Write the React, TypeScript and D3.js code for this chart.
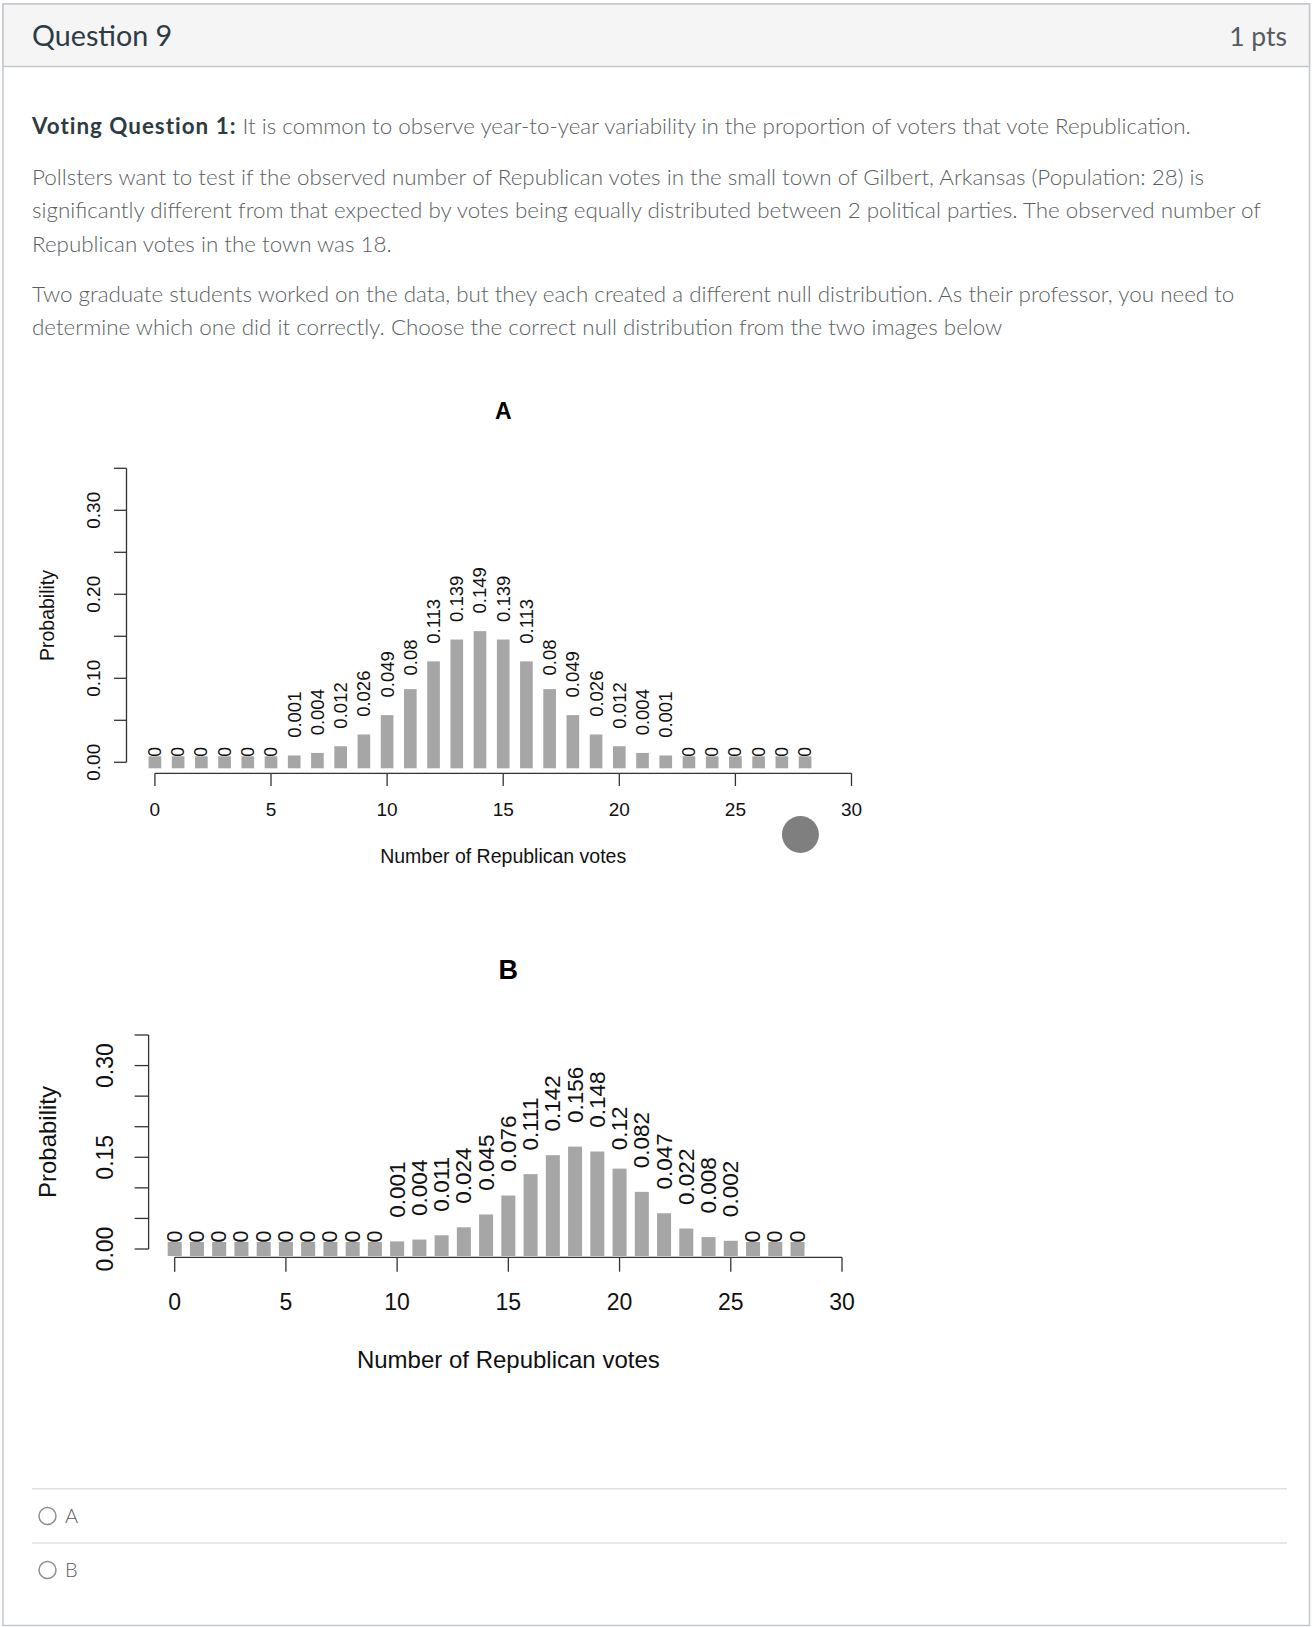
import React from "react";
import * as d3 from "d3";

// ---------- data ----------
const votes = [0, 1, 2, 3, 4, 5, 6, 7, 8, 9, 10, 11, 12, 13, 14, 15, 16, 17, 18, 19, 20, 21, 22, 23, 24, 25, 26, 27, 28];
const probA = [0, 0, 0, 0, 0, 0, 0.001, 0.004, 0.012, 0.026, 0.049, 0.08, 0.113, 0.139, 0.149, 0.139, 0.113, 0.08, 0.049, 0.026, 0.012, 0.004, 0.001, 0, 0, 0, 0, 0, 0];
const probB = [0, 0, 0, 0, 0, 0, 0, 0, 0, 0, 0.001, 0.004, 0.011, 0.024, 0.045, 0.076, 0.111, 0.142, 0.156, 0.148, 0.12, 0.082, 0.047, 0.022, 0.008, 0.002, 0, 0, 0];
const xTicks = [0, 5, 10, 15, 20, 25, 30];
const yMinorTicks = [0, 0.05, 0.1, 0.15, 0.2, 0.25, 0.3, 0.35];
const yLabelsA = [0, 0.1, 0.2, 0.3];
const yLabelsB = [0, 0.15, 0.3];

const paragraphLines = [
  "Pollsters want to test if the observed number of Republican votes in the small town of Gilbert, Arkansas (Population: 28) is",
  "significantly different from that expected by votes being equally distributed between 2 political parties. The observed number of",
  "Republican votes in the town was 18.",
];
const paragraph2Lines = [
  "Two graduate students worked on the data, but they each created a different null distribution. As their professor, you need to",
  "determine which one did it correctly. Choose the correct null distribution from the two images below",
];
const options = ["A", "B"];

// ---------- layout ----------
const layoutA = {
  title: "A",
  probs: probA,
  yLabels: yLabelsA,
  xLeft: 154.9, xRight: 851.5, yBottom: 762.3, yTop: 468.3,
  yAxisX: 126.5, yTickLen: 12.5, yLabelX: 93, yTitleX: 46.5, yTitleY: 615.5,
  xAxisY: 773.3, xTickLen: 12.7, xLabelY: 809.6, xTitleY: 856.4,
  titleY: 410.5, titleSize: 23,
  tickFont: 19, axisTitleFont: 19.5, valFont: 18.5, zeroFont: 17.5,
  barFrac: 0.545, barPad: 6, gapK: 0.38,
};
const layoutB = {
  title: "B",
  probs: probB,
  yLabels: yLabelsB,
  xLeft: 174.7, xRight: 842, yBottom: 1249, yTop: 1035,
  yAxisX: 148.6, yTickLen: 14, yLabelX: 105, yTitleX: 47, yTitleY: 1142,
  xAxisY: 1257.3, xTickLen: 14.4, xLabelY: 1301.5, xTitleY: 1359,
  titleY: 970, titleSize: 27,
  tickFont: 23, axisTitleFont: 24, valFont: 22.5, zeroFont: 21.5,
  barFrac: 0.63, barPad: 7, gapK: 0.42,
};

const chartFont = "'Liberation Sans', Arial, Helvetica, sans-serif";
const pageFont = "Lato, 'Open Sans', sans-serif";
const axisColor = "#333";
const barColor = "#a6a6a6";

function textLen(s: string, size: number) {
  let w = 0;
  for (const c of s) w += c === "." ? 0.278 : 0.556;
  return w * size;
}

function BarChart({ L }: { L: any }) {
  const x = d3.scaleLinear().domain([0, 30]).range([L.xLeft, L.xRight]);
  const y = d3.scaleLinear().domain([0, 0.35]).range([L.yBottom, L.yTop]);
  const bw = L.barFrac * (x(1) - x(0));
  const fmt = d3.format(".2f");
  return (
    <g fontFamily={chartFont}>
      <text x={x(15)} y={L.titleY} textAnchor="middle" dominantBaseline="central" fontWeight="bold" fontSize={L.titleSize} fill="#000">
        {L.title}
      </text>
      {/* bars */}
      {votes.map((v, i) => {
        const p = L.probs[i];
        const top = y(p) - L.barPad;
        const bottom = y(0) + L.barPad;
        return <rect key={"b" + v} x={x(v) - bw / 2} y={top} width={bw} height={bottom - top} fill={barColor} />;
      })}
      {/* value labels */}
      {votes.map((v, i) => {
        const p = L.probs[i];
        const label = String(p);
        const size = p === 0 ? L.zeroFont : L.valFont;
        const gap = p === 0 ? -0.5 : L.gapK * textLen(label, size);
        const ty = y(p) - L.barPad - gap;
        return (
          <text key={"l" + v} transform={`translate(${x(v)},${ty}) rotate(-90)`} textAnchor="start" dominantBaseline="central" fontSize={size} fill="#111">
            {label}
          </text>
        );
      })}
      {/* y axis */}
      <line x1={L.yAxisX} x2={L.yAxisX} y1={y(0)} y2={y(0.35)} stroke={axisColor} strokeWidth={1.3} />
      {yMinorTicks.map((t) => (
        <line key={"yt" + t} x1={L.yAxisX - L.yTickLen} x2={L.yAxisX} y1={y(t)} y2={y(t)} stroke={axisColor} strokeWidth={1.3} />
      ))}
      {L.yLabels.map((t: number) => (
        <text key={"yl" + t} transform={`translate(${L.yLabelX},${y(t)}) rotate(-90)`} textAnchor="middle" dominantBaseline="central" fontSize={L.tickFont} fill="#111">
          {fmt(t)}
        </text>
      ))}
      <text transform={`translate(${L.yTitleX},${L.yTitleY}) rotate(-90)`} textAnchor="middle" dominantBaseline="central" fontSize={L.axisTitleFont} fill="#111">
        Probability
      </text>
      {/* x axis */}
      <line x1={x(0)} x2={x(30)} y1={L.xAxisY} y2={L.xAxisY} stroke={axisColor} strokeWidth={1.3} />
      {xTicks.map((t) => (
        <line key={"xt" + t} x1={x(t)} x2={x(t)} y1={L.xAxisY} y2={L.xAxisY + L.xTickLen} stroke={axisColor} strokeWidth={1.3} />
      ))}
      {xTicks.map((t) => (
        <text key={"xl" + t} x={x(t)} y={L.xLabelY} textAnchor="middle" dominantBaseline="central" fontSize={L.tickFont} fill="#111">
          {t}
        </text>
      ))}
      <text x={x(15)} y={L.xTitleY} textAnchor="middle" dominantBaseline="central" fontSize={L.axisTitleFont} fill="#111">
        Number of Republican votes
      </text>
    </g>
  );
}

export default function App() {
  const xA = d3.scaleLinear().domain([0, 30]).range([layoutA.xLeft, layoutA.xRight]);
  const bodyColor = "#5a5f63";
  const bodySize = 22.4;
  return (
    <svg width={1312} height={1627} style={{ position: "absolute", left: 0, top: 0, display: "block", background: "#fff" }}>
      {/* outer box */}
      <rect x={3} y={4} width={1306.5} height={1621.5} fill="#fff" stroke="#c3c8cc" strokeWidth={1.5} />
      <rect x={3} y={4} width={1306.5} height={62.5} fill="#f5f5f5" stroke="#c3c8cc" strokeWidth={1.5} />
      <text x={32} y={45.5} fontFamily={pageFont} fontSize={28.7} fill="#2d3b45">Question 9</text>
      <text x={1287} y={45.5} textAnchor="end" fontFamily={pageFont} fontSize={26.5} fill="#555b60">1 pts</text>

      {/* question text */}
      <text x={32} y={133.5} fontFamily={pageFont} fontSize={bodySize} fill={bodyColor}>
        <tspan fontWeight="bold" fill="#2d3b45" letterSpacing={1}>Voting Question 1:</tspan>
        <tspan fontWeight={300}> It is common to observe year-to-year variability in the proportion of voters that vote Republication.</tspan>
      </text>
      {paragraphLines.map((s, i) => (
        <text key={"p1" + i} x={32} y={184.5 + i * 33.6} fontFamily={pageFont} fontWeight={300} fontSize={bodySize} fill={bodyColor}>{s}</text>
      ))}
      {paragraph2Lines.map((s, i) => (
        <text key={"p2" + i} x={32} y={301.5 + i * 33.6} fontFamily={pageFont} fontWeight={300} fontSize={bodySize} fill={bodyColor}>{s}</text>
      ))}

      <BarChart L={layoutA} />
      <circle cx={xA(27.8)} cy={834.5} r={18.5} fill="#7f7f7f" />
      <BarChart L={layoutB} />

      {/* answer options */}
      <line x1={32} x2={1287} y1={1488.7} y2={1488.7} stroke="#dfe1e3" strokeWidth={1.5} />
      <line x1={32} x2={1287} y1={1543} y2={1543} stroke="#dfe1e3" strokeWidth={1.5} />
      {options.map((o, i) => (
        <g key={o}>
          <circle cx={47.5} cy={1516 + i * 54} r={8.5} fill="#fff" stroke="#8a8f93" strokeWidth={1.5} />
          <text x={65} y={1523 + i * 54} fontFamily={pageFont} fontWeight={300} fontSize={20} fill={bodyColor}>{o}</text>
        </g>
      ))}
    </svg>
  );
}
